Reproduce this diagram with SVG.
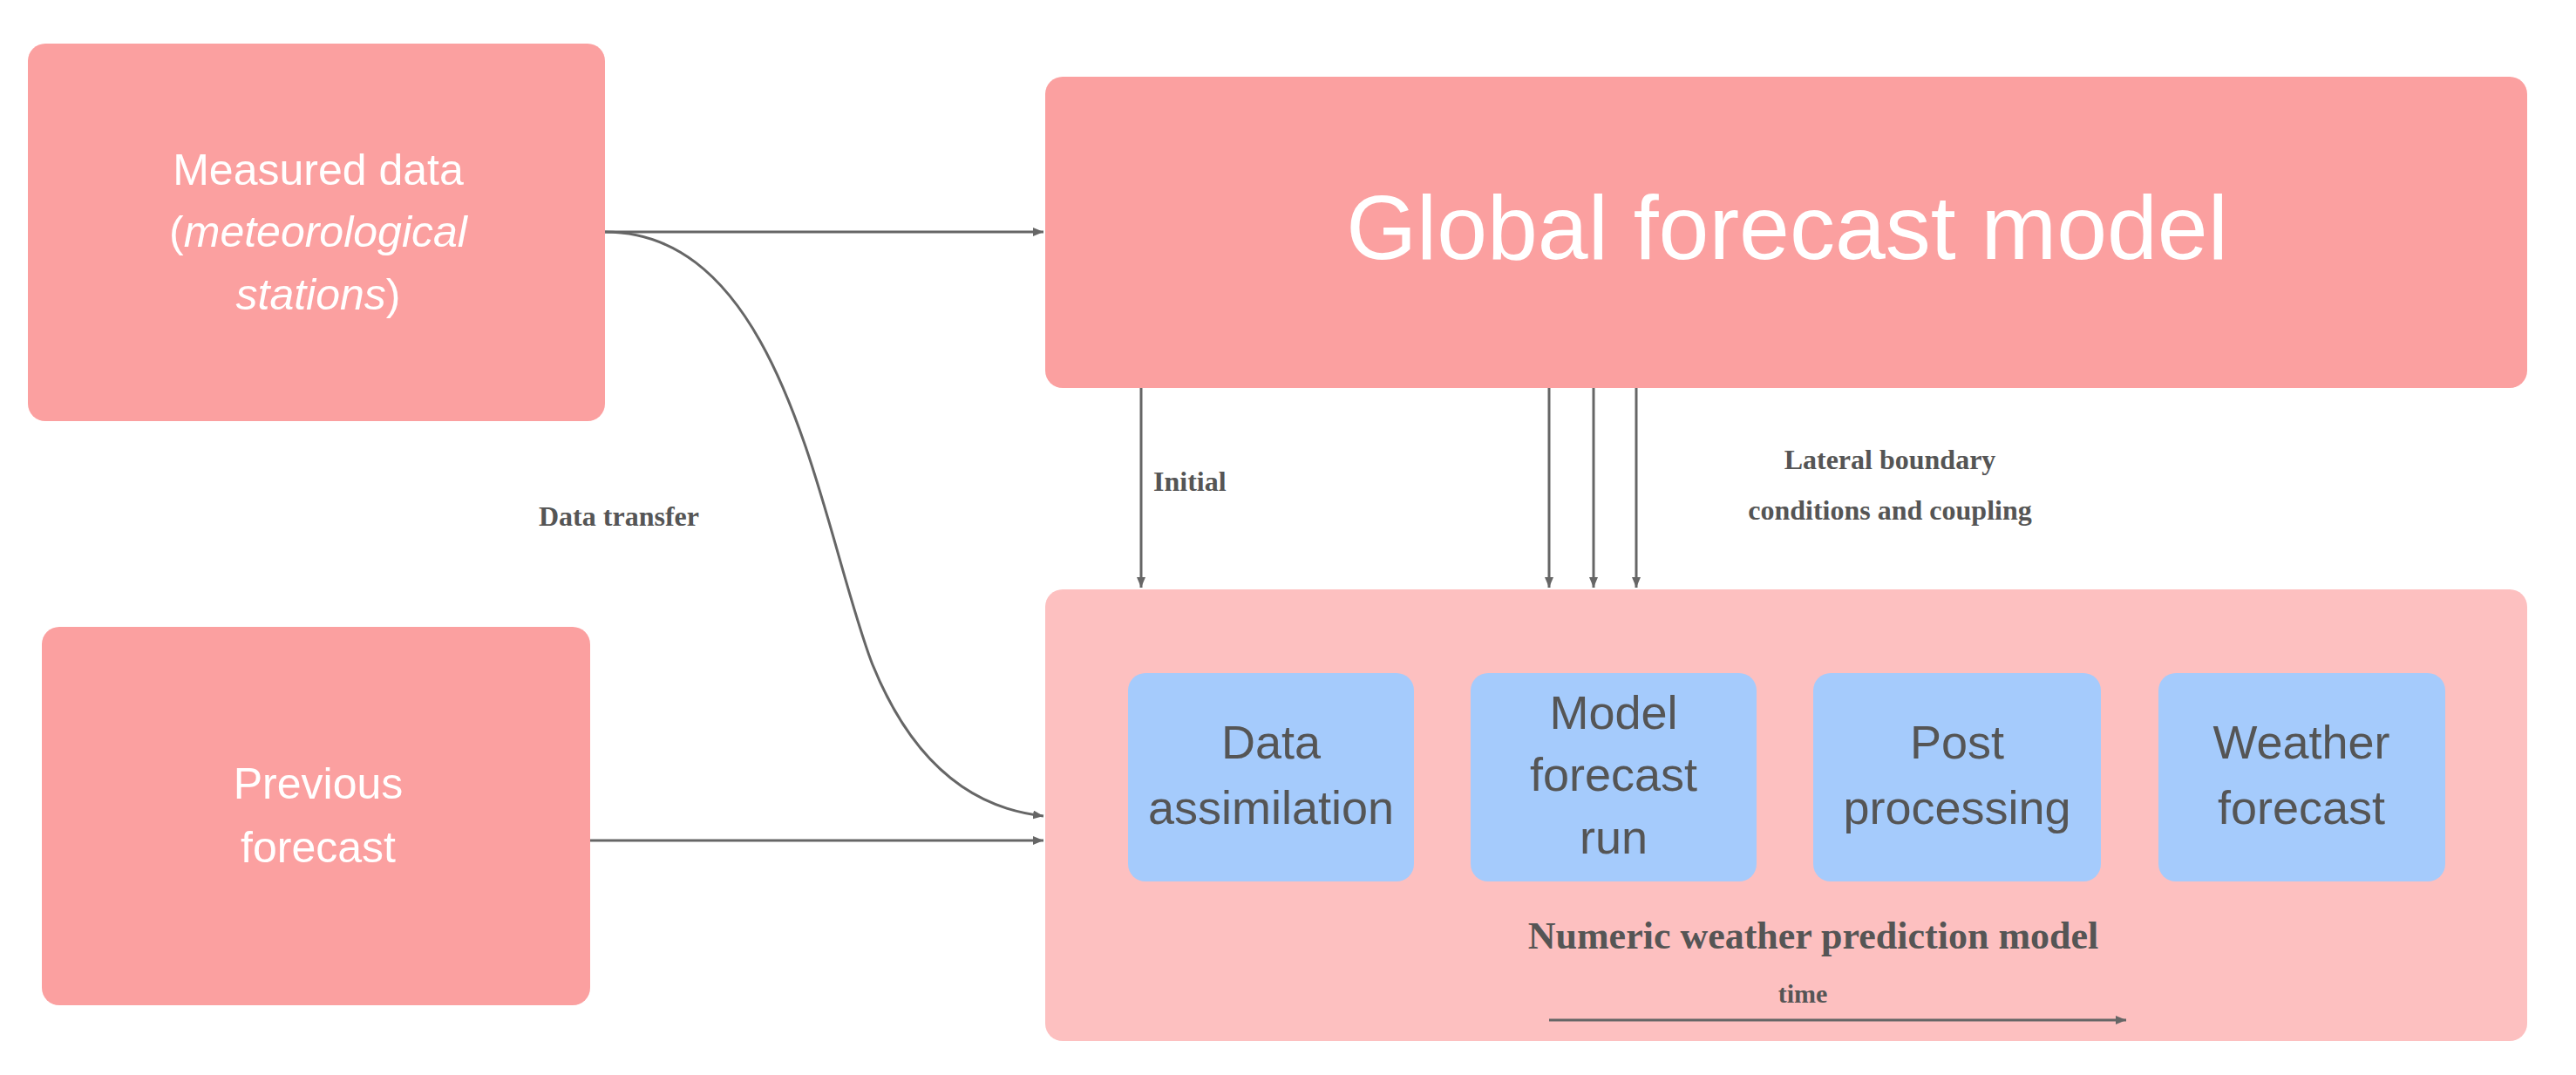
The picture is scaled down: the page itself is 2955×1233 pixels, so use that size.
<svg xmlns="http://www.w3.org/2000/svg" width="2955" height="1233" viewBox="0 0 2955 1233">
<style>
.box{fill:#fba0a0}
.nwp{fill:#fdc0c0}
.blue{fill:#a5cbfc}
.wt{font-family:"Liberation Sans",Arial,sans-serif;fill:#fff;text-anchor:middle}
.bt{font-family:"Liberation Sans",Arial,sans-serif;fill:#555;font-size:54px;text-anchor:middle}
.lbl{font-family:"Liberation Serif","Times New Roman",serif;font-weight:bold;fill:#555}
.c{stroke:#666;stroke-width:3;fill:none;marker-end:url(#ah)}
</style>
<defs>
<marker id="ah" viewBox="0 0 12 10" refX="12" refY="5" markerWidth="12" markerHeight="10" markerUnits="userSpaceOnUse" orient="auto">
<path d="M0,0 L12,5 L0,10 Z" fill="#666"/>
</marker>
</defs>
<rect width="2955" height="1233" fill="#fff"/>
<g id="measured">
<rect class="box" x="32" y="50" width="662" height="433" rx="20"/>
<text class="wt" font-size="50" x="365" y="212">Measured data</text>
<text class="wt" font-size="50" x="365" y="283">(<tspan font-style="italic">meteorological</tspan></text>
<text class="wt" font-size="50" x="365" y="355"><tspan font-style="italic">stations</tspan>)</text>
</g>
<g id="previous">
<rect class="box" x="48" y="719" width="629" height="434" rx="20"/>
<text class="wt" font-size="50" x="365" y="916">Previous</text>
<text class="wt" font-size="50" x="365" y="989">forecast</text>
</g>
<g id="global">
<rect class="box" x="1199" y="88" width="1700" height="357" rx="20"/>
<text class="wt" font-size="104" x="2050" y="297">Global forecast model</text>
</g>
<g id="nwp">
<rect class="nwp" x="1199" y="676" width="1700" height="518" rx="20"/>
<text class="lbl" font-size="44" x="2080" y="1088" text-anchor="middle">Numeric weather prediction model</text>
<text class="lbl" font-size="30" font-weight="normal" x="2068" y="1150" text-anchor="middle">time</text>
</g>
<g id="da">
<rect class="blue" x="1294" y="772" width="328" height="239" rx="20"/>
<text class="bt" x="1458" y="870">Data</text>
<text class="bt" x="1458" y="945">assimilation</text>
</g>
<g id="mfr">
<rect class="blue" x="1687" y="772" width="328" height="239" rx="20"/>
<text class="bt" x="1851" y="836">Model</text>
<text class="bt" x="1851" y="907">forecast</text>
<text class="bt" x="1851" y="979">run</text>
</g>
<g id="pp">
<rect class="blue" x="2080" y="772" width="330" height="239" rx="20"/>
<text class="bt" x="2245" y="870">Post</text>
<text class="bt" x="2245" y="945">processing</text>
</g>
<g id="wf">
<rect class="blue" x="2476" y="772" width="329" height="239" rx="20"/>
<text class="bt" x="2640" y="870">Weather</text>
<text class="bt" x="2640" y="945">forecast</text>
</g>
<g id="connectors">
<path class="c" d="M694,266 L1197,266"/>
<path class="c" d="M694,266 C900,266 940,600 1000,760 C1060,910 1150,930 1197,936"/>
<path class="c" d="M677,964 L1197,964"/>
<path class="c" d="M1309,445 L1309,674"/>
<path class="c" d="M1777,445 L1777,674"/>
<path class="c" d="M1828,445 L1828,674"/>
<path class="c" d="M1877,445 L1877,674"/>
<path class="c" d="M1777,1170 L2439,1170" stroke-width="4"/>
<text class="lbl" font-size="32" x="618" y="603">Data transfer</text>
<text class="lbl" font-size="32" x="1323" y="563">Initial</text>
<text class="lbl" font-size="32" x="2168" y="538" text-anchor="middle">Lateral boundary</text>
<text class="lbl" font-size="32" x="2168" y="596" text-anchor="middle">conditions and coupling</text>
</g>
</svg>
